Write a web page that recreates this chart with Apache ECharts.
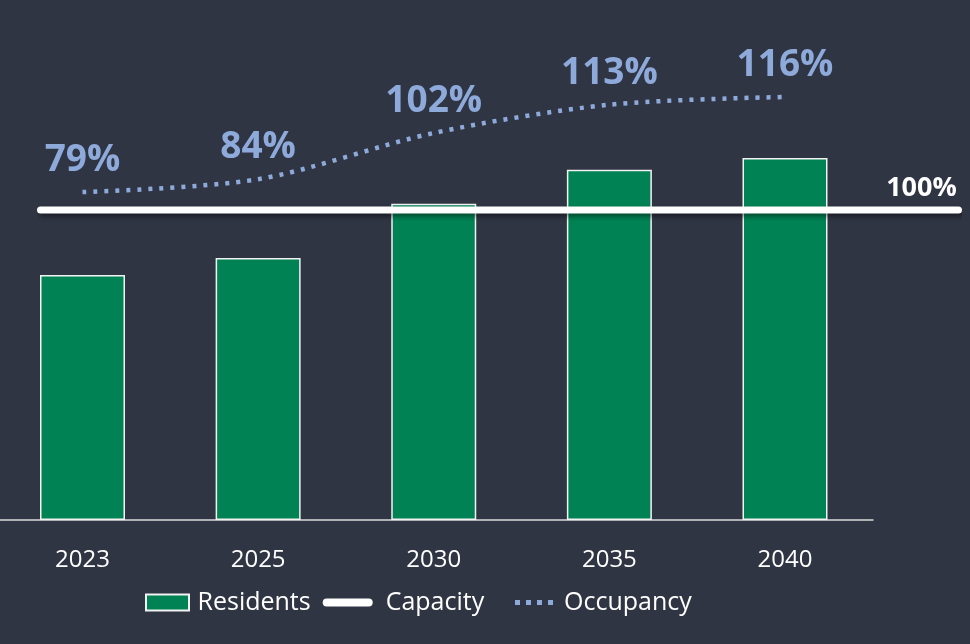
<!DOCTYPE html>
<html>
<head>
<meta charset="utf-8">
<script src="https://cdn.jsdelivr.net/npm/echarts@6/dist/echarts.min.js"></script>
<style>
  html, body { margin: 0; padding: 0; background: #303543; }
  #chart { width: 970px; height: 644px; }
</style>
</head>
<body>
<div id="chart"></div>
<script>
const years = ["2023", "2025", "2030", "2035", "2040"];
// residents relative to a capacity of 100
const residents = [79, 84.5, 102, 113, 116.8];
const capacity = [100, 100, 100, 100, 100];
const occupancy = [79, 84, 102, 113, 116];

const font = "'Open Sans', 'Noto Sans', sans-serif";
const legendText = { color: "#fff", fontSize: 25, fontFamily: font };

let chart = echarts.init(document.getElementById("chart"));
let option = {
  backgroundColor: "#303543",
  animation: false,
  legend: [
    {
      bottom: 24,
      left: 140,
      itemGap: 12,
      itemWidth: 50,
      itemHeight: 16,
      textStyle: legendText,
      data: [
        { name: "Residents", icon: "path://M0,0h43v16h-43z" },
        {
          name: "Capacity",
          icon: "path://M4,0 H46 A4,4 0 0 1 46,8 H4 A4,4 0 0 1 4,0 Z",
          textStyle: { padding: [0, 0, 0, 8] }
        }
      ]
    },
    {
      bottom: 24,
      left: 510,
      itemWidth: 44,
      itemHeight: 16,
      textStyle: legendText,
      data: [
        // last move-to widens the icon box so the text sits further right
        { name: "Occupancy", icon: "path://M0,0h5v5h-5z M11,0h5v5h-5z M22,0h5v5h-5z M33,0h5v5h-5z M44,0" }
      ]
    }
  ],
  grid: [
    // bars and occupancy, category centres on the ticks
    { left: 82.5, right: 185, top: 24, bottom: 124 },
    // capacity line reaches past the bar area
    { left: 40.5, right: 11.5, top: 24, bottom: 124 },
    // baseline
    { left: 0, right: 97, top: 24, bottom: 124 }
  ],
  xAxis: [
    {
      type: "category",
      gridIndex: 0,
      data: years,
      boundaryGap: false,
      axisTick: { show: false },
      axisLine: { show: false },
      axisLabel: { color: "#fff", fontSize: 24, fontFamily: font, margin: 28 }
    },
    {
      type: "category",
      gridIndex: 1,
      data: years,
      boundaryGap: false,
      show: false
    },
    {
      type: "category",
      gridIndex: 2,
      data: years,
      axisTick: { show: false },
      axisLabel: { show: false },
      axisLine: { lineStyle: { color: "#d9d9d9", width: 1.5 } }
    }
  ],
  yAxis: [
    { type: "value", gridIndex: 0, min: 0, max: 160, show: false },
    { type: "value", gridIndex: 0, min: -48.6, max: 144.4, show: false },
    { type: "value", gridIndex: 1, min: 0, max: 160, show: false },
    { type: "value", gridIndex: 2, min: 0, max: 160, show: false }
  ],
  series: [
    {
      name: "Residents",
      type: "bar",
      xAxisIndex: 0,
      yAxisIndex: 0,
      barWidth: 85,
      data: residents,
      itemStyle: { color: "#008254", borderColor: "#f2f2f2", borderWidth: 1.5 }
    },
    {
      name: "Capacity",
      type: "line",
      xAxisIndex: 1,
      yAxisIndex: 2,
      data: capacity,
      symbol: "circle",
      symbolSize: 0.1,
      z: 5,
      lineStyle: {
        color: "#fff",
        width: 7,
        cap: "round",
        shadowColor: "rgba(0,0,0,0.45)",
        shadowBlur: 5,
        shadowOffsetX: 2,
        shadowOffsetY: 3
      },
      itemStyle: { color: "#fff" },
      label: {
        show: true,
        position: "top",
        distance: 8,
        offset: [-37, 0],
        formatter: function (p) {
          return p.dataIndex === capacity.length - 1 ? p.value + "%" : "";
        },
        color: "#fff",
        fontSize: 27,
        fontWeight: "bold",
        fontFamily: font
      }
    },
    {
      name: "Occupancy",
      type: "line",
      xAxisIndex: 0,
      yAxisIndex: 1,
      data: occupancy,
      smooth: 0.3,
      symbol: "circle",
      symbolSize: 0.1,
      z: 6,
      lineStyle: { color: "#8eaadb", width: 4.5, type: [4, 7], cap: "butt" },
      itemStyle: { color: "#8eaadb" },
      label: {
        show: true,
        position: "top",
        distance: 13,
        formatter: "{c}%",
        color: "#8eaadb",
        fontSize: 37,
        fontWeight: "bold",
        fontFamily: font
      }
    }
  ]
};
chart.setOption(option);
</script>
</body>
</html>
